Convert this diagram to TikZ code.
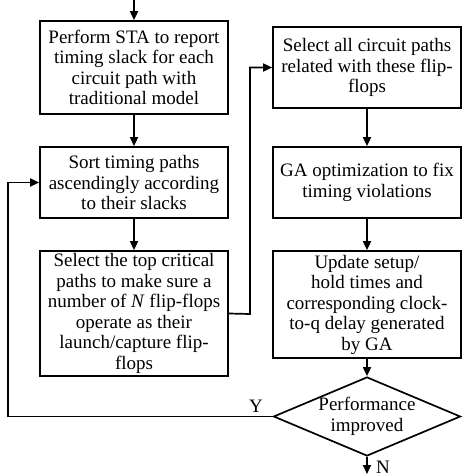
\documentclass[tikz,border=0pt]{standalone}
\usepackage{fontspec}
\setmainfont{Liberation Serif}
\usetikzlibrary{shapes.geometric,arrows.meta}
\begin{document}
\begin{tikzpicture}[x=1pt,y=-1pt,
  box/.style={draw,line width=1.7pt,minimum width=188pt,inner sep=0pt,align=center,
    font=\fontsize{19}{20.5}\selectfont},
  arr/.style={line width=1.7pt,-{Triangle[length=9pt,width=8pt]}},
  lbl/.style={font=\fontsize{19}{20.5}\selectfont,inner sep=0pt}]
\useasboundingbox (0,0) rectangle (474,474);
\fill[white] (0,0) rectangle (474,474);
\node[box,minimum height=93pt] (b1) at (134,67.5) {Perform STA to report\\timing slack for each\\circuit path with\\traditional model};
\node[box,minimum height=71pt] (b2) at (134,182.5) {Sort timing paths\\ascendingly according\\to their slacks};
\node[box,minimum height=125pt] (b3) at (134,313.5) {Select the top critical\\paths to make sure a\\number of \textit{N} flip-flops\\operate as their\\launch/capture flip-\\flops};
\node[box,minimum height=81pt] (b4) at (367,67.5) {Select all circuit paths\\related with these flip-\\flops};
\node[box,minimum height=71pt] (b5) at (367,182.5) {GA optimization to fix\\timing violations};
\node[box,minimum height=107pt] (b6) at (367,304.5) {Update setup/\\hold times and\\corresponding clock-\\to-q delay generated\\by GA};
\node[diamond,draw,line width=1.7pt,minimum width=187pt,minimum height=79pt,inner sep=0pt] (dec) at (367,416.5) {};
\node[lbl,align=center] (dect) at (dec.center) {Performance\\improved};
\coordinate (start) at (134,0);
\coordinate (endp) at (367,474);
\coordinate (lp) at (8,416.5);
\coordinate (rp) at (250,314);
\draw[arr] (start) -- (b1);
\draw[arr] (b1) -- (b2);
\draw[arr] (b2) -- (b3);
\draw[arr] (b3.east) -- (rp) |- (b4.west);
\draw[arr] (b4) -- (b5);
\draw[arr] (b5) -- (b6);
\draw[arr] (b6) -- (dec.north);
\draw[arr] (dec.west) -- (lp) |- (b2.west);
\draw[arr] (dec.south) -- (endp);
\node[lbl] (ylab) at (256,406) {Y};
\node[lbl] (nlab) at (383,467) {N};
\end{tikzpicture}
\end{document}
